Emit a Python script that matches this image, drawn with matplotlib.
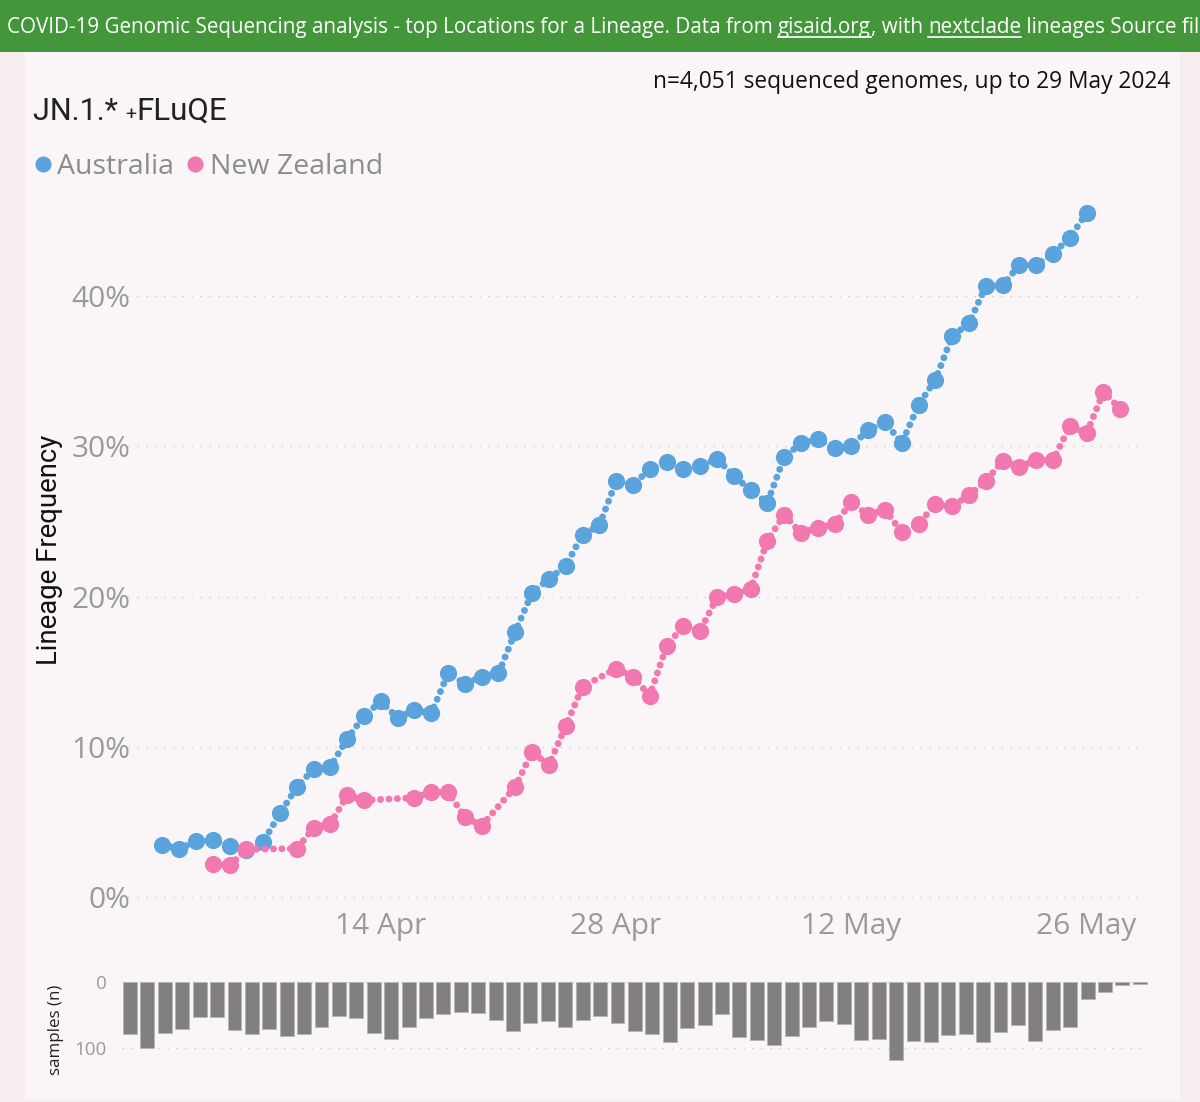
import matplotlib
matplotlib.use("Agg")
import matplotlib.pyplot as plt
import matplotlib.dates as mdates
from matplotlib.lines import Line2D
from matplotlib.patches import Rectangle
import numpy as np
import pandas as pd

W, H = 1200, 1102

# Lineage frequency in %, one value per day from 1 Apr, None = no marker that day
australia = [3.46, 3.2, 3.7, 3.77, 3.42, 3.13, 3.68, 5.57, 7.32, 8.52,
             8.68, 10.54, 12.05, 13.03, 11.92, 12.45, 12.23, 14.89, 14.2, 14.67,
             14.89, 17.66, 20.26, 21.17, 22.04, 24.12, 24.74, 27.67, 27.45, 28.47,
             28.93, 28.5, 28.69, 29.18, 28.05, 27.07, 26.25, 29.27, 30.2, 30.49,
             29.89, 30.04, 31.07, 31.62, 30.22, 32.76, 34.44, 37.33, 38.19, 40.66,
             40.72, 42.08, 42.08, 42.83, 43.89, 45.53, None, None]
new_zealand = [None, None, None, 2.18, 2.1, 3.18, None, None, 3.22, 4.61,
               4.88, 6.77, 6.44, None, None, 6.61, 6.99, 6.99, 5.31, 4.75,
               None, 7.34, 9.65, 8.79, 11.38, 14.0, None, 15.2, 14.67, 13.4,
               16.71, 18.06, 17.71, 19.95, 20.17, 20.5, 23.7, 25.45, 24.23, 24.59,
               24.83, 26.28, 25.43, 25.79, 24.28, 24.83, 26.16, 26.01, 26.74, 27.68,
               29.03, 28.61, 29.11, 29.07, 31.34, 30.87, 33.62, 32.51]
samples = [78, 100, 76, 70, 52.5, 52, 72, 78, 71, 81,
           79, 67, 51, 54, 76, 86, 67, 54, 48, 45,
           46.5, 57, 73, 61, 59, 68, 57, 51, 61, 74,
           79, 90, 69, 64, 48, 83, 87, 95, 82, 67,
           58, 63, 87, 86, 118, 89, 91, 80, 78, 91,
           75, 65, 89, 72, 67, 26, 15, 4, 2.5]
y_ticks = [0, 10, 20, 30, 40]
y_tick_labels = ["0%", "10%", "20%", "30%", "40%"]
x_tick_dates = ["2024-04-14", "2024-04-28", "2024-05-12", "2024-05-26"]
x_tick_labels = ["14 Apr", "28 Apr", "12 May", "26 May"]

dates = pd.date_range("2024-04-01", periods=len(australia))

BLUE = "#5BA3DC"
PINK = "#F278B0"
GREY_TXT = "#9A9A9A"
GRID = "#C8C3C4"
DOTS = (0, (1, 6.2))


def px_axes(left, top, right, bottom):
    return fig.add_axes([left / W, 1 - bottom / H, (right - left) / W, (bottom - top) / H])


def text_run(x, y, pieces):
    # pieces are (text, size, underline), drawn one after the other from pixel x
    r = fig.canvas.get_renderer()
    for txt, size, family, color, under in pieces:
        t = fig.text(x / W, 1 - y / H, txt, fontsize=size, family=family, color=color, va="baseline", ha="left")
        w = t.get_window_extent(r).width
        if under:
            fig.add_artist(Line2D([x / W, (x + w) / W], [1 - (y + 4) / H] * 2, color=color, lw=1.2))
        x += w


def draw_series(ax, values, color, z):
    s = pd.Series(values, index=dates, dtype=float).dropna()
    ax.plot(s.index, s.values, color=color, lw=5, linestyle=(0, (0.01, 1.2)),
            dash_capstyle="round", zorder=z)
    ax.plot(s.index, s.values, linestyle="none", marker="o", ms=12.4, mfc=color, mec="none", zorder=z + 0.5)


fig = plt.figure(figsize=(W / 100, H / 100), dpi=100, facecolor="#F5EDEE")

# panel and green header
fig.add_artist(Rectangle((25 / W, 1 - 1100 / H), 1155 / W, 1048 / H, transform=fig.transFigure,
                         facecolor="#FAF6F7", edgecolor="none", zorder=-5))
fig.add_artist(Rectangle((0, 1 - 52 / H), 1, 52 / H, transform=fig.transFigure,
                         facecolor="#43963A", edgecolor="none", zorder=-4))

text_run(7, 33, [
    ("COVID-19 Genomic Sequencing analysis - top Locations for a Lineage. Data from ", 14.9, "Open Sans", "white", False),
    ("gisaid.org", 14.9, "Open Sans", "white", True),
    (", with ", 14.9, "Open Sans", "white", False),
    ("nextclade", 14.9, "Open Sans", "white", True),
    (" lineages Source file", 14.9, "Open Sans", "white", False),
])

fig.text(1170 / W, 1 - 88 / H, "n=4,051 sequenced genomes, up to 29 May 2024", fontsize=16.4,
         family="Open Sans", color="#111111", ha="right", va="baseline")

text_run(33, 120, [
    ("JN.1.* ", 22, "Roboto", "#222222", False),
    ("+", 14, "Roboto", "#222222", False),
    ("FLuQE", 22.5, "Roboto", "#222222", False),
])

# main chart
ax = px_axes(128, 190, 1137, 897)
ax.patch.set_alpha(0)
draw_series(ax, australia, BLUE, 3)
draw_series(ax, new_zealand, PINK, 4)
ax.set_ylim(0, 47.07)
day0 = mdates.date2num(dates[0])
ax.set_xlim(day0 - 2.05, day0 + 58.0)
ax.set_yticks(y_ticks)
ax.set_yticklabels(y_tick_labels, fontsize=21.5, family="Open Sans", color=GREY_TXT)
ax.set_xticks(pd.to_datetime(x_tick_dates))
ax.set_xticklabels(x_tick_labels, fontsize=21.5, family="Open Sans", color=GREY_TXT)
ax.tick_params(axis="y", length=0, pad=-2)
ax.tick_params(axis="x", length=0, pad=11)
ax.grid(axis="y", color=GRID, lw=0.9, linestyle=DOTS, clip_on=False)
ax.set_axisbelow(True)
for sp in ax.spines.values():
    sp.set_visible(False)
fig.text(50 / W, 1 - 550 / H, "Lineage Frequency", rotation=90, fontsize=19.8, family="Roboto",
         color="#111111", ha="center", va="center")

handles = [Line2D([], [], linestyle="none", marker="o", ms=11.6, mfc=BLUE, mec="none"),
           Line2D([], [], linestyle="none", marker="o", ms=11.6, mfc=PINK, mec="none")]
fig.legend(handles, ["Australia", "New Zealand"], loc="center left", bbox_to_anchor=(20 / W, 1 - 167 / H),
           ncol=2, frameon=False, handlelength=0.6, handletextpad=0.2, columnspacing=0.45, borderpad=0,
           prop={"family": "Open Sans", "size": 20.5}, labelcolor="#8C8C8C")

# samples bars, drawn downwards
ax2 = px_axes(122, 982.3, 1148, 1090)
ax2.patch.set_alpha(0)
ax2.bar(range(len(samples)), samples, width=0.8, color="#808080", edgecolor="#B8B4B5", linewidth=0.6, zorder=3)
ax2.set_xlim(-0.46, 58.47)
ax2.set_ylim(163, 0)
ax2.set_xticks([])
ax2.set_yticks([0, 100])
ax2.set_yticklabels(["0", "100"], fontsize=13.5, family="Open Sans", color=GREY_TXT)
ax2.tick_params(axis="y", length=0, pad=11)
ax2.grid(axis="y", color=GRID, lw=0.9, linestyle=DOTS)
ax2.set_axisbelow(True)
for sp in ax2.spines.values():
    sp.set_visible(False)
fig.text(56 / W, 1 - 1030 / H, "samples (n)", rotation=90, fontsize=12.2, family="Open Sans",
         color="#222222", ha="center", va="center")

fig.savefig("out.png", dpi=100, facecolor=fig.get_facecolor())
